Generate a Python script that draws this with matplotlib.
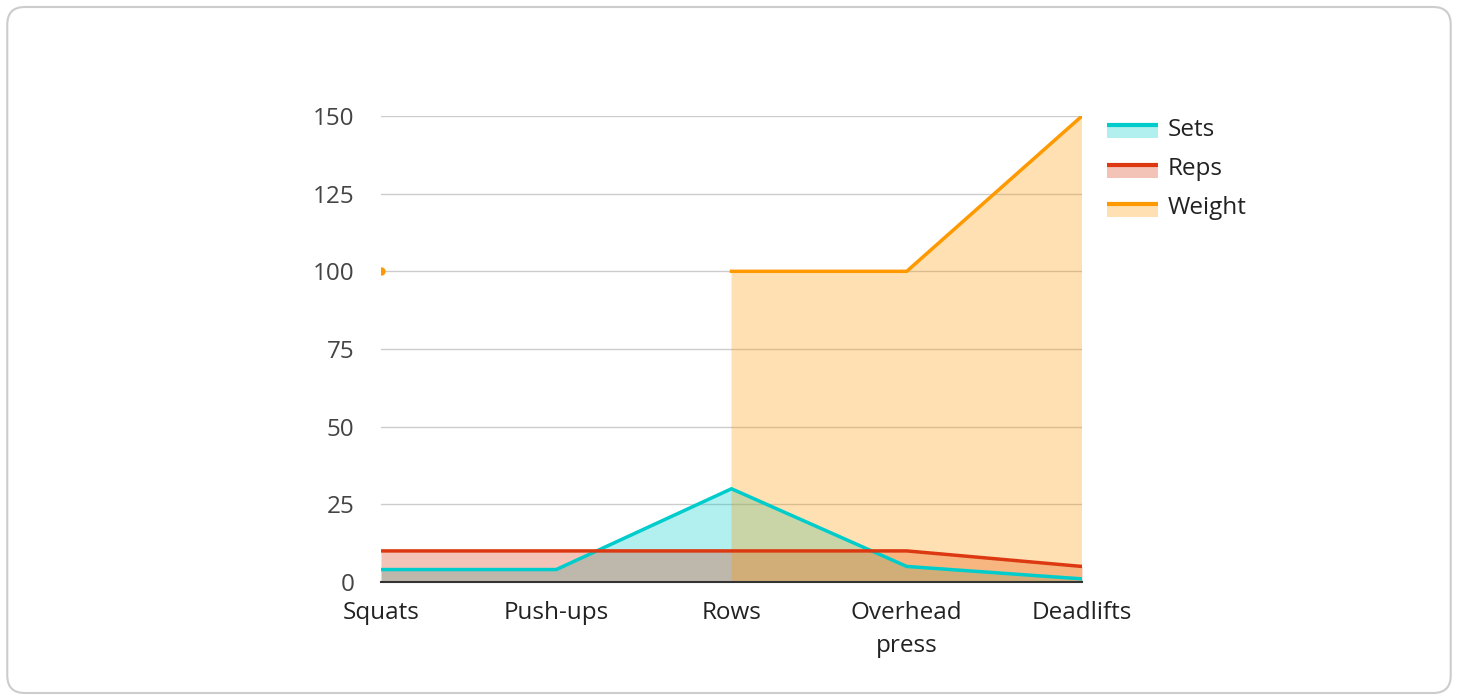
import numpy as np
import matplotlib.pyplot as plt
from matplotlib.patches import Rectangle, FancyBboxPatch
from matplotlib.lines import Line2D
from matplotlib.legend_handler import HandlerBase

plt.rcParams['font.family'] = ['Open Sans', 'DejaVu Sans']

# data
exercises = ['Squats', 'Push-ups', 'Rows', 'Overhead\npress', 'Deadlifts']
sets = [4, 4, 30, 5, 1]
reps = [10, 10, 10, 10, 5]
weight = [100, np.nan, 100, 100, 150]
series_names = ['Sets', 'Reps', 'Weight']
colors = ['#00cccc', '#dc3912', '#ff9900']
y_ticks = [0, 25, 50, 75, 100, 125, 150]

FS = 17.5


class AreaHandler(HandlerBase):
    def __init__(self, color):
        super().__init__()
        self.color = color

    def create_artists(self, legend, orig, xd, yd, w, h, fontsize, trans):
        rect = Rectangle((-xd, -yd - 0.1 * h), w, h * 0.8, facecolor=self.color,
                         alpha=0.3, edgecolor='none', transform=trans)
        line = Line2D([-xd, -xd + w], [-yd + 0.6 * h] * 2, color=self.color,
                      lw=3, transform=trans, solid_capstyle='butt')
        return [rect, line]


fig = plt.figure(figsize=(14.58, 7), dpi=100)
border = FancyBboxPatch((0.005, 0.01), 0.99, 0.98, boxstyle='round,pad=0,rounding_size=0.012',
                        transform=fig.transFigure, facecolor='white', edgecolor='#cccccc',
                        lw=1.5, mutation_aspect=1458 / 700, zorder=-10)
fig.patches.append(border)

ax = fig.add_axes([0.2613, 0.1686, 0.4808, 0.6657])
ax.set_facecolor('none')
x = np.arange(len(exercises))

for vals, c in zip([sets, reps, weight], colors):
    v = np.array(vals, dtype=float)
    ax.fill_between(x, 0, v, color=c, alpha=0.3, lw=0, zorder=2)
for vals, c in zip([sets, reps, weight], colors):
    ax.plot(x, vals, color=c, lw=2.5, zorder=3, solid_joinstyle='miter')

# lone weight point (neighbour missing)
ax.plot([x[0]], [weight[0]], 'o', color=colors[2], ms=5, zorder=4, clip_on=True)

ax.set_xlim(0, 4)
ax.set_ylim(0, 150)
ax.set_yticks(y_ticks)
ax.set_xticks(x)
ax.set_xticklabels(exercises, linespacing=1.45)
ax.grid(axis='y', color='#cccccc', lw=1, zorder=0)
ax.set_axisbelow(True)
for s in ['left', 'right', 'top']:
    ax.spines[s].set_visible(False)
ax.spines['bottom'].set_color('#333333')
ax.spines['bottom'].set_linewidth(1.5)
ax.spines['bottom'].set_zorder(5)
ax.tick_params(axis='y', length=0, pad=19, labelsize=FS, labelcolor='#444444')
ax.tick_params(axis='x', length=0, pad=14, labelsize=FS, labelcolor='#222222')

handles = [Line2D([], [], color=c) for c in colors]
fig.legend(handles, series_names, loc='upper left', bbox_to_anchor=(0.7445, 0.863),
           frameon=False, fontsize=FS, handlelength=2.1, handleheight=0.8,
           handletextpad=0.4, labelspacing=0.62, labelcolor='#222222',
           handler_map={h: AreaHandler(c) for h, c in zip(handles, colors)})

fig.savefig('out.png', dpi=100)
